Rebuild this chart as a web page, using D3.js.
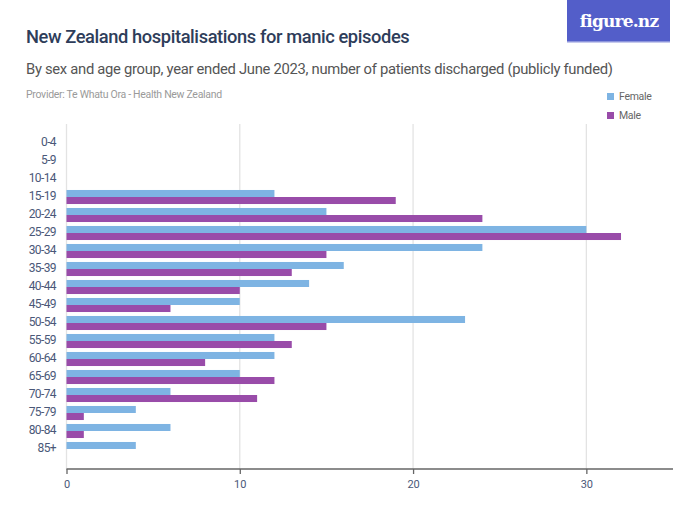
<!DOCTYPE html>
<html>
<head>
<meta charset="utf-8">
<script src="https://cdn.jsdelivr.net/npm/d3@7"></script>
<style>
  body { margin: 0; background: #fff; }
  text { font-family: "Roboto", "Liberation Sans", sans-serif; }
</style>
</head>
<body>
<svg id="chart" width="700" height="525"></svg>
<script>
var ageGroups = ["0-4", "5-9", "10-14", "15-19", "20-24", "25-29", "30-34", "35-39", "40-44",
    "45-49", "50-54", "55-59", "60-64", "65-69", "70-74", "75-79", "80-84", "85+"];
var femaleValues = [0, 0, 0, 12, 15, 30, 24, 16, 14, 10, 23, 12, 12, 10, 6, 4, 6, 4];
var maleValues = [0, 0, 0, 19, 24, 32, 15, 13, 10, 6, 15, 13, 8, 12, 11, 1, 1, 0];
var seriesNames = ["Female", "Male"];
var xTicks = [0, 10, 20, 30];

var colors = d3.scaleOrdinal(seriesNames, ["#7eb4e3", "#994ca9"]);

var svg = d3.select("#chart");

var left = 66.5,
    right = 673,
    plotTop = 124,
    axisY = 469;

var x = d3.scaleLinear().domain([0, 35]).range([left, right]);
var y = d3.scaleBand().domain(ageGroups).range([134, 458]).paddingInner(0.22).paddingOuter(0.11);
var ySub = d3.scaleBand().domain(seriesNames).range([0, y.bandwidth()]);

// titles
svg.append("text").attr("x", 26).attr("y", 43)
    .attr("font-size", "18.3px").attr("font-weight", 500).attr("fill", "#2e3d5a")
    .attr("letter-spacing", "-0.4px")
    .text("New Zealand hospitalisations for manic episodes");
svg.append("text").attr("x", 26).attr("y", 74)
    .attr("font-size", "14.8px").attr("fill", "#555").attr("letter-spacing", "-0.3px")
    .text("By sex and age group, year ended June 2023, number of patients discharged (publicly funded)");
svg.append("text").attr("x", 26).attr("y", 98)
    .attr("font-size", "10.5px").attr("fill", "#9a9a9a").attr("letter-spacing", "-0.3px")
    .text("Provider: Te Whatu Ora - Health New Zealand");

// logo
svg.append("rect").attr("x", 567).attr("y", 0).attr("width", 103).attr("height", 42).attr("fill", "#535ec9");
svg.append("rect").attr("x", 567).attr("y", 41).attr("width", 103).attr("height", 1.5).attr("fill", "#8d95dc");
svg.append("text").attr("x", 619).attr("y", 27).attr("text-anchor", "middle")
    .attr("font-size", "17px").attr("font-weight", "bold")
    .attr("fill", "#fff").attr("letter-spacing", "-0.8px")
    .style("font-family", "'DejaVu Serif', serif")
    .text("figure.nz");

// legend
var legend = svg.append("g").selectAll("g").data(seriesNames).enter().append("g")
    .attr("transform", function(d, i) { return "translate(607," + (92 + i * 19) + ")"; });
legend.append("rect").attr("width", 7).attr("height", 7).attr("y", 1)
    .attr("fill", function(d) { return colors(d); });
legend.append("text").attr("x", 12).attr("y", 7.5)
    .attr("font-size", "10.5px").attr("fill", "#666").attr("letter-spacing", "-0.3px")
    .text(function(d) { return d; });

// gridlines
svg.append("g").selectAll("line").data(xTicks).enter().append("line")
    .attr("x1", function(d) { return x(d); }).attr("x2", function(d) { return x(d); })
    .attr("y1", plotTop).attr("y2", axisY)
    .attr("stroke", "#e3e3e3").attr("stroke-width", 1.3);

// bars
var rows = ageGroups.map(function(a, i) {
    return { age: a, values: [{ name: "Female", v: femaleValues[i] }, { name: "Male", v: maleValues[i] }] };
});
var group = svg.append("g").selectAll("g").data(rows).enter().append("g")
    .attr("transform", function(d) { return "translate(0," + y(d.age) + ")"; });
group.selectAll("rect").data(function(d) { return d.values.filter(function(s) { return s.v > 0; }); })
    .enter().append("rect")
    .attr("x", x(0))
    .attr("y", function(d) { return ySub(d.name); })
    .attr("width", function(d) { return x(d.v) - x(0); })
    .attr("height", ySub.bandwidth())
    .attr("fill", function(d) { return colors(d.name); });

// y labels
svg.append("g").selectAll("text").data(ageGroups).enter().append("text")
    .attr("x", 56).attr("y", function(d) { return y(d) + y.bandwidth() / 2 - 1; })
    .attr("dy", "0.32em").attr("text-anchor", "end")
    .attr("font-size", "12px").attr("fill", "#4a5878").attr("letter-spacing", "-0.6px")
    .text(function(d) { return d; });

// x axis
var xAxis = svg.append("g").attr("transform", "translate(0," + axisY + ")")
    .call(d3.axisBottom(x).tickValues(xTicks).tickSize(5).tickPadding(6));
xAxis.select(".domain").attr("stroke", "#666").attr("stroke-width", 1.3).attr("d", "M" + left + ",0H" + right);
xAxis.selectAll(".tick line").attr("stroke", "#666").attr("stroke-width", 1.3);
xAxis.selectAll(".tick text").attr("font-size", "11px").attr("fill", "#4a5878")
    .attr("font-family", "Roboto, sans-serif");
</script>
</body>
</html>
